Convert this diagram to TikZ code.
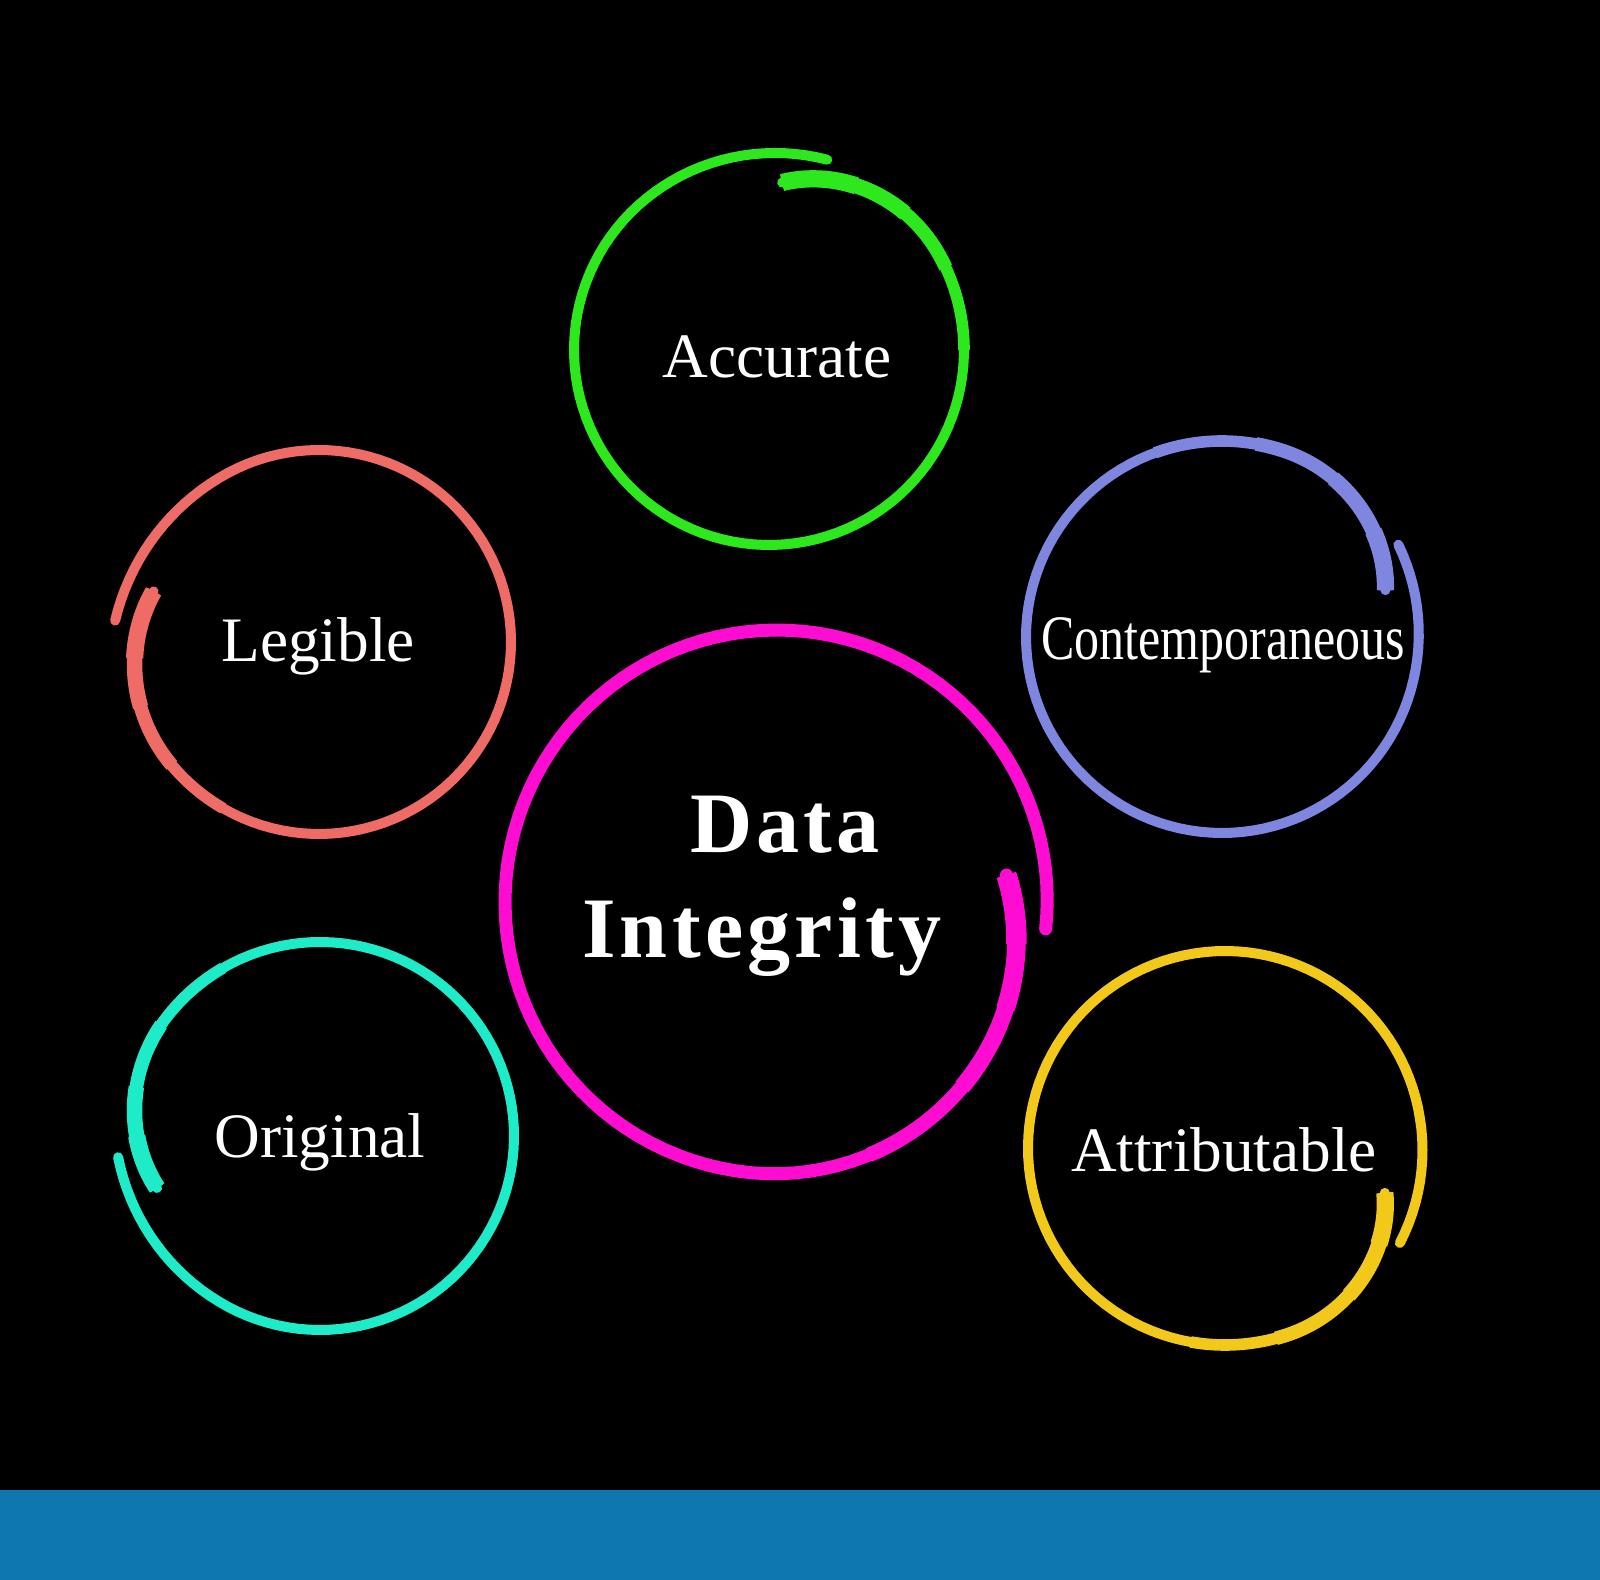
\documentclass[tikz,border=0pt]{standalone}
\usepackage{fontspec}
\setmainfont{Liberation Serif}

\definecolor{accgreen}{HTML}{2EE81E}
\definecolor{legred}{HTML}{EE6B66}
\definecolor{conblue}{HTML}{7F86E0}
\definecolor{dimagenta}{HTML}{FF0CD2}
\definecolor{oriteal}{HTML}{1EEBC8}
\definecolor{attyellow}{HTML}{F2C81A}
\definecolor{barblue}{HTML}{0F77B0}

\def\rampf{0.15}
\tikzset{
  declare function={ringp(\t,\s,\e)=(\t-\s)/(\e-\s);
    ringr(\t,\s,\e,\R,\p,\q)=\R+(\p-\R)*max(0,1-ringp(\t,\s,\e)/\rampf)^2+(\q-\R)*max(0,(ringp(\t,\s,\e)-1+\rampf)/\rampf)^2;},
  ring/.style={line width=2.85pt, line cap=round, line join=round},
  taper/.style={line width=#1, line cap=butt},
  word/.style={text=white, font=\fontsize{18}{20}\selectfont, anchor=base, inner sep=0pt},
  title/.style={text=white, font=\bfseries\fontsize{24.5}{28}\selectfont\addfontfeatures{LetterSpace=5}, anchor=base, inner sep=0pt},
}

% piece of a hand drawn ring: centre, radius, whole stroke from/to (deg),
% radius at from, radius at to, piece from/to
\newcommand{\ringarc}[9][]{%
  \draw[ring,#1,shift={(#2)}] plot[domain=#8:#9, samples=121]
    ({ringr(\x,#4,#5,#3,#6,#7)*cos(\x)}, {-ringr(\x,#4,#5,#3,#6,#7)*sin(\x)});}
\newcommand{\ring}[7][]{\ringarc[#1]{#2}{#3}{#4}{#5}{#6}{#7}{#4}{#5}}

\begin{document}
\begin{tikzpicture}[x=0.01cm, y=-0.01cm]
  \fill[black] (0,0) rectangle (1600,1580);
  \useasboundingbox (0,0) rectangle (1600,1580);
  \fill[barblue] (0,1490) rectangle (1600,1580);

  \coordinate (accC) at (769,350);
  \coordinate (legC) at (319,642);
  \coordinate (conC) at (1222,637);
  \coordinate (diC)  at (777,902);
  \coordinate (oriC) at (320,1136);
  \coordinate (attC) at (1225,1148);

  % Accurate
  \ring[accgreen]{accC}{195}{-287}{85.5}{199}{168}
  \foreach \w/\a in {3.3/0,3.9/25,4.4/45,4.9/62}
    \ringarc[accgreen,taper=\w pt]{accC}{195}{-287}{85.5}{199}{168}{\a}{85.5};
  % Legible
  \ring[legred]{legC}{192}{-197}{174}{173}{205}
  \foreach \w/\a in {3.3/-120,3.9/-140,4.4/-160,4.9/-175}
    \ringarc[legred,taper=\w pt]{legC}{192}{-197}{174}{173}{205}{-197}{\a};
  % Contemporaneous
  \ring[conblue]{conC}{196}{-344}{27.6}{170}{199}
  \foreach \w/\a in {3.3/-250,3.9/-280,4.4/-305,4.9/-325}
    \ringarc[conblue,taper=\w pt]{conC}{196}{-344}{27.6}{170}{199}{-344}{\a};
  % Data Integrity
  \def\rampf{0.28}
  \ring[dimagenta,line width=3.7pt]{diC}{272}{-5.7}{366.7}{270}{231}
  \foreach \w/\a in {4.2/290,4.8/315,5.3/335,5.8/350}
    \ringarc[dimagenta,taper=\w pt]{diC}{272}{-5.7}{366.7}{270}{231}{\a}{366.7};
  \def\rampf{0.15}
  % Original
  \ring[oriteal]{oriC}{194}{-174}{197.7}{203}{171}
  \foreach \w/\a in {3.3/120,3.9/145,4.4/165,4.9/180}
    \ringarc[oriteal,taper=\w pt]{oriC}{194}{-174}{197.7}{203}{171}{\a}{197.7};
  % Attributable
  \ring[attyellow]{attC}{197}{-28.5}{344.3}{199}{166}
  \foreach \w/\a in {3.3/260,3.9/285,4.4/310,4.9/328}
    \ringarc[attyellow,taper=\w pt]{attC}{197}{-28.5}{344.3}{199}{166}{\a}{344.3};

  \node[word] (acc) at (777,378) {Accurate};
  \node[word] (leg) at (318,662) {Legible};
  \node[word] (con) at (1223,660) {\scalebox{0.79}[1]{Contemporaneous}};
  \node[word] (ori) at (320,1158) {Original};
  \node[word] (att) at (1224,1172) {Attributable};
  \node[title] (data) at (785,853) {Data};
  \node[title] (integ) at (762,958) {Integrity};
\end{tikzpicture}
\end{document}
